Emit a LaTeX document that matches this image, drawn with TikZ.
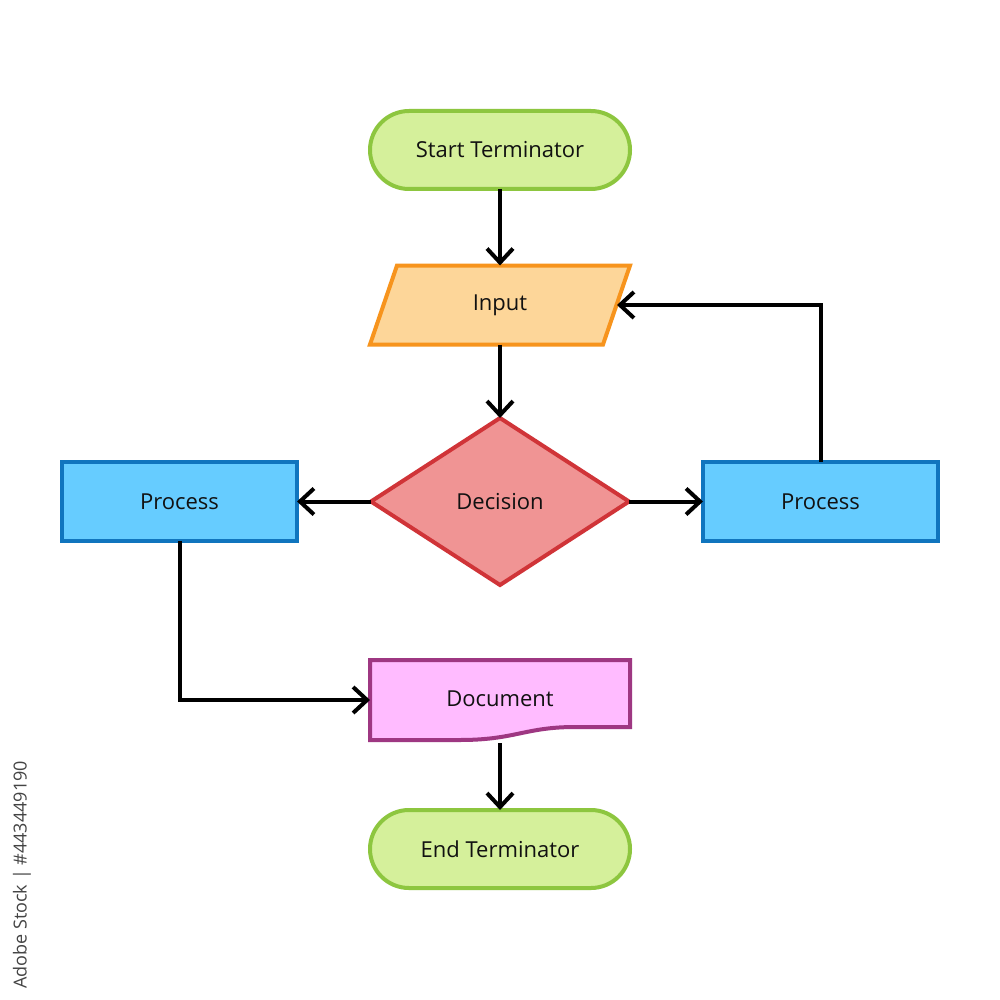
\documentclass[tikz,border=0pt]{standalone}
\usepackage{fontspec}
\setmainfont{Open Sans}
\usetikzlibrary{arrows.meta,backgrounds}
\definecolor{termfill}{RGB}{213,240,155}
\definecolor{termline}{RGB}{141,198,63}
\definecolor{inpfill}{RGB}{253,214,153}
\definecolor{inpline}{RGB}{247,148,29}
\definecolor{decfill}{RGB}{240,148,148}
\definecolor{decline}{RGB}{208,52,56}
\definecolor{procfill}{RGB}{102,204,255}
\definecolor{procline}{RGB}{16,117,190}
\definecolor{docfill}{RGB}{255,187,255}
\definecolor{docline}{RGB}{158,55,130}
\definecolor{txtcol}{RGB}{17,17,17}
\definecolor{markcol}{RGB}{68,68,68}
\tikzset{
  lbl/.style={font=\fontsize{11}{13}\selectfont, text=txtcol, inner sep=0pt, outer sep=0pt},
  termbox/.style={lbl, rectangle, rounded corners=19.5pt, minimum width=130pt, minimum height=39pt,
    draw=termline, fill=termfill, line width=2pt},
  procbox/.style={lbl, rectangle, minimum width=117.5pt, minimum height=39.5pt,
    draw=procline, fill=procfill, line width=2pt},
  plainbox/.style={lbl, rectangle},
  shapeline/.style={line width=2pt, line join=miter},
  arr/.style={line width=2pt, draw=black, -{Straight Barb[length=7pt,width=13pt,line width=2pt]}},
}
\begin{document}
\begin{tikzpicture}[x=0.5pt,y=-0.5pt]
\useasboundingbox (0,0) rectangle (1000,1000);

% nodes
\node[termbox] (start) at (500,150) {Start Terminator};
\node[plainbox, minimum width=130pt, minimum height=39.5pt] (input) at (500,305) {Input};
\node[plainbox, minimum width=129pt, minimum height=83.5pt] (dec) at (500,501.5) {Decision};
\node[procbox] (procL) at (179.5,501.5) {Process};
\node[procbox] (procR) at (820.5,501.5) {Process};
\node[plainbox, minimum width=130pt, minimum height=40pt] (doc) at (500,700) {\raisebox{1pt}{Document}};
\node[termbox] (end) at (500,849) {End Terminator};

\begin{scope}[on background layer]
  \fill[white] (0,0) rectangle (1000,1000);
  % input parallelogram
  \draw[shapeline, draw=inpline, fill=inpfill]
    ([xshift=13.5pt]input.north west) -- (input.north east)
    -- ([xshift=-13.5pt]input.south east) -- (input.south west) -- cycle;
  % decision diamond
  \draw[shapeline, draw=decline, fill=decfill]
    (dec.north) -- (dec.east) -- (dec.south) -- (dec.west) -- cycle;
  % document
  \draw[shapeline, draw=docline, fill=docfill]
    (doc.north west) -- (doc.north east) -- (630,727) -- (575,727)
    .. controls (525,727) and (515,740) .. (460,740) -- (doc.south west) -- cycle;
\end{scope}

\coordinate (inR) at (617,305);

% connectors
\draw[arr] (start.south) -- (input.north);
\draw[arr] (input.south) -- (dec.north);
\draw[arr] (dec.west) -- (procL.east);
\draw[arr] (dec.east) -- (procR.west);
\draw[arr] (procR.north) |- (inR);
\draw[arr] (procL.south) |- (doc.west);
\draw[arr, shorten <=1.5pt] (doc.south) -- (end.north);

% side credit
\node[rotate=90, font=\fontsize{9}{11}\selectfont, text=markcol, inner sep=0pt] (credit) at (22,875) {Adobe Stock | \#443449190};
\end{tikzpicture}
\end{document}
